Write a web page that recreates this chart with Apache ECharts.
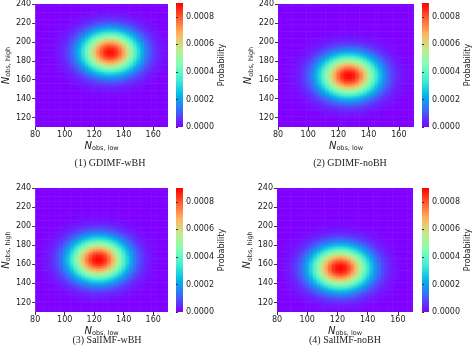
<!DOCTYPE html>
<html>
<head>
<meta charset="utf-8">
<style>
  html, body { margin: 0; padding: 0; background: #fff; }
  #chart { width: 474px; height: 354px; }
</style>
<script src="https://cdn.jsdelivr.net/npm/echarts@6/dist/echarts.min.js"></script>
</head>
<body>
<div id="chart"></div>
<script>
  // cell centres of the probability grid
  var xCells = [80,82.5,85,87.5,90,92.5,95,97.5,100,102.5,105,107.5,110,112.5,115,117.5,120,122.5,125,127.5,
                130,132.5,135,137.5,140,142.5,145,147.5,150,152.5,155,157.5,160,162.5,165,167.5,170]
  var yCells = [110,112.5,115,117.5,120,122.5,125,127.5,130,132.5,135,137.5,140,142.5,145,147.5,150,152.5,155,157.5,
                160,162.5,165,167.5,170,172.5,175,177.5,180,182.5,185,187.5,190,192.5,195,197.5,200,202.5,205,207.5,
                210,212.5,215,217.5,220,222.5,225,227.5,230,232.5,235,237.5,240]

  // relative profile along N_obs,low
  var lowGdimfWbh  = [0.0005,0.001,0.002,0.004,0.007,0.0125,0.022,0.036,0.058,0.090,0.135,0.195,0.271,0.363,0.469,0.583,0.699,0.808,0.899,0.964,
                      0.997,0.993,0.954,0.882,0.787,0.676,0.560,0.447,0.344,0.255,0.182,0.125,0.083,0.053,0.033,0.019,0.011]
  var lowGdimfNobh = [0.001,0.003,0.005,0.010,0.017,0.030,0.048,0.076,0.116,0.169,0.239,0.325,0.425,0.537,0.653,0.766,0.865,0.942,0.988,0.999,
                      0.974,0.914,0.827,0.722,0.607,0.491,0.383,0.288,0.209,0.146,0.098,0.064,0.040,0.024,0.014,0.008,0.004]
  var lowSalimfWbh = [0.004,0.008,0.014,0.024,0.040,0.064,0.098,0.146,0.209,0.288,0.383,0.491,0.607,0.722,0.827,0.914,0.974,0.999,0.988,0.942,
                      0.865,0.766,0.653,0.537,0.425,0.325,0.239,0.169,0.116,0.076,0.048,0.030,0.017,0.010,0.005,0.003,0.001]
  var lowSalimfNobh= [0.005,0.010,0.017,0.030,0.048,0.076,0.116,0.169,0.239,0.325,0.425,0.537,0.653,0.766,0.865,0.942,0.988,0.999,0.974,0.914,
                      0.827,0.722,0.607,0.491,0.383,0.288,0.209,0.146,0.098,0.064,0.040,0.024,0.014,0.008,0.004,0.002,0.001]

  // relative profile along N_obs,high
  var highGdimfWbh  = [0,0,0,0,0,0,0.0001,0.0002,0.0003,0.0006,0.0012,0.0022,0.004,0.007,0.011,0.018,0.029,0.044,0.066,0.096,
                       0.135,0.186,0.249,0.325,0.411,0.506,0.607,0.707,0.801,0.882,0.946,0.986,1,0.986,0.946,0.882,0.801,0.707,0.607,0.506,
                       0.411,0.325,0.249,0.186,0.135,0.096,0.066,0.044,0.029,0.018,0.011,0.007,0.004]
  var highGdimfNobh = [0.0012,0.0022,0.004,0.007,0.011,0.018,0.029,0.044,0.066,0.096,0.135,0.186,0.249,0.325,0.411,0.506,0.607,0.707,0.801,0.882,
                       0.946,0.986,1,0.986,0.946,0.882,0.801,0.707,0.607,0.506,0.411,0.325,0.249,0.186,0.135,0.096,0.066,0.044,0.029,0.018,
                       0.011,0.007,0.004,0.0022,0.0012,0.0006,0.0003,0.0002,0.0001,0,0,0,0]
  var highSalimfWbh = [0.0009,0.0017,0.003,0.005,0.009,0.015,0.024,0.037,0.056,0.083,0.118,0.164,0.223,0.293,0.375,0.467,0.566,0.667,0.764,0.852,
                       0.923,0.973,0.998,0.995,0.965,0.910,0.835,0.745,0.647,0.546,0.448,0.358,0.278,0.210,0.154,0.110,0.077,0.052,0.034,0.022,
                       0.0135,0.008,0.005,0.003,0.0015,0.0008,0.0004,0.0002,0.0001,0,0,0,0]
  var highSalimfNobh= [0.007,0.012,0.020,0.031,0.048,0.071,0.103,0.145,0.198,0.263,0.341,0.430,0.526,0.627,0.726,0.818,0.897,0.956,0.991,0.999,
                       0.980,0.935,0.867,0.783,0.687,0.586,0.487,0.393,0.309,0.236,0.175,0.127,0.089,0.061,0.040,0.026,0.016,0.010,0.006,0.0035,
                       0.002,0.0011,0.0006,0.0003,0.0001,0.0001,0,0,0,0,0,0,0]

  var peaks = [0.00089, 0.0009, 0.0009, 0.0009]
  var captions = ['(1) GDIMF-wBH', '(2) GDIMF-noBH', '(3) SalIMF-wBH', '(4) SalIMF-noBH']

  var xTicks = [80, 100, 120, 140, 160]
  var yTicks = [120, 140, 160, 180, 200, 220, 240]
  var cbTicks = [0, 0.0002, 0.0004, 0.0006, 0.0008]

  var lowProfiles = [lowGdimfWbh, lowGdimfNobh, lowSalimfWbh, lowSalimfNobh]
  var highProfiles = [highGdimfWbh, highGdimfNobh, highSalimfWbh, highSalimfNobh]

  // layout
  var gridLeft = [32, 278, 32, 277]
  var gridTop = [3, 3, 188, 188]
  var barLeft = [176, 422, 176, 422]
  var capX = [110, 350, 107, 345]
  var capY = [163, 163, 340, 340]
  var half = 1.25   // half cell size in data units

  // matplotlib "rainbow"
  var rainbow = ['#8000ff','#4062fa','#00b4eb','#40ecd4','#80ffb4','#c0ec8e','#ffb462','#ff6232','#ff0000']

  var tickFont = { fontFamily: 'DejaVu Sans', fontSize: 8, color: '#222' }
  var nameRich = {
    i: { fontFamily: 'DejaVu Sans', fontStyle: 'italic', fontSize: 10, color: '#222' },
    s: { fontFamily: 'DejaVu Sans', fontSize: 6.5, color: '#222', padding: [5, 0, 0, 0] }
  }

  function buildCells(px, py, peak) {
    var out = []
    for (var j = 0; j < yCells.length; j++) {
      for (var i = 0; i < xCells.length; i++) {
        out.push([xCells[i], yCells[j], peak * px[i] * py[j]])
      }
    }
    return out
  }

  function renderCell(params, api) {
    var x = api.value(0), y = api.value(1)
    var a = api.coord([x - half, y + half])
    var b = api.coord([x + half, y - half])
    var cs = params.coordSys
    var rect = echarts.graphic.clipRectByRect(
      { x: a[0], y: a[1], width: b[0] - a[0] + 0.5, height: b[1] - a[1] + 0.5 },
      { x: cs.x, y: cs.y, width: cs.width, height: cs.height }
    )
    if (!rect) return
    var col = api.visual('color')
    var style = { fill: col }
    // soften the cell steps inside the blob
    if (api.value(2) > 0.00002) {
      style.shadowBlur = 3
      style.shadowColor = col
    }
    return { type: 'rect', shape: rect, style: style }
  }

  var myChart = echarts.init(document.getElementById('chart'))
  var grids = [], xAxes = [], yAxes = [], series = [], visualMaps = [], graphics = []

  for (var k = 0; k < 4; k++) {
    grids.push({ left: gridLeft[k], top: gridTop[k], width: 136, height: 124 })
    xAxes.push({
      gridIndex: k, type: 'value', min: 80, max: 170,
      name: '{i|N}{s|obs, low}', nameLocation: 'middle', nameGap: 13,
      nameTextStyle: { rich: nameRich },
      axisLine: { show: false },
      axisTick: { show: true, length: 3, lineStyle: { color: '#333' }, customValues: xTicks },
      axisLabel: Object.assign({ margin: 4, customValues: xTicks }, tickFont),
      splitLine: { show: false }
    })
    yAxes.push({
      gridIndex: k, type: 'value', min: 110, max: 240,
      name: '{i|N}{s|obs, high}', nameLocation: 'middle', nameGap: 19,
      nameTextStyle: { rich: nameRich },
      axisLine: { show: false },
      axisTick: { show: true, length: 3, lineStyle: { color: '#333' }, customValues: yTicks },
      axisLabel: Object.assign({ margin: 4, customValues: yTicks }, tickFont),
      splitLine: { show: false }
    })
    series.push({
      type: 'custom', xAxisIndex: k, yAxisIndex: k, silent: true,
      renderItem: renderCell, encode: { x: 0, y: 1 },
      data: buildCells(lowProfiles[k], highProfiles[k], peaks[k])
    })
    visualMaps.push({
      type: 'continuous', show: false, seriesIndex: k, dimension: 2,
      min: 0, max: 0.0009,
      inRange: { color: rainbow }
    })
    // colour bar
    graphics.push({
      type: 'rect', silent: true,
      shape: { x: barLeft[k], y: gridTop[k], width: 7, height: 124 },
      style: {
        fill: new echarts.graphic.LinearGradient(0, 1, 0, 0, rainbow.map(function (c, i) {
          return { offset: i / (rainbow.length - 1), color: c }
        }))
      }
    })
    graphics.push({
      type: 'text', x: capX[k], y: capY[k], silent: true,
      style: {
        text: captions[k], fontFamily: 'Liberation Serif', fontSize: 10, fill: '#222',
        textAlign: 'center', textVerticalAlign: 'middle'
      }
    })
  }

  // colour bar axes
  for (var c = 0; c < 4; c++) {
    grids.push({ left: barLeft[c], top: gridTop[c], width: 7, height: 124 })
    xAxes.push({ gridIndex: 4 + c, type: 'value', min: 0, max: 1, show: false })
    yAxes.push({
      gridIndex: 4 + c, type: 'value', position: 'right', min: 0, max: 0.0009,
      name: 'Probability', nameLocation: 'middle', nameGap: 33, nameRotate: 90,
      nameTextStyle: { fontFamily: 'DejaVu Sans', fontSize: 8, color: '#222' },
      axisLine: { show: false },
      axisTick: { show: true, length: 2, lineStyle: { color: '#333' }, customValues: cbTicks },
      axisLabel: Object.assign({
        margin: 3, customValues: cbTicks,
        formatter: function (v) { return v.toFixed(4) }
      }, tickFont),
      splitLine: { show: false }
    })
  }

  myChart.setOption({
    animation: false,
    grid: grids,
    xAxis: xAxes,
    yAxis: yAxes,
    visualMap: visualMaps,
    series: series,
    graphic: graphics
  })
</script>
</body>
</html>
